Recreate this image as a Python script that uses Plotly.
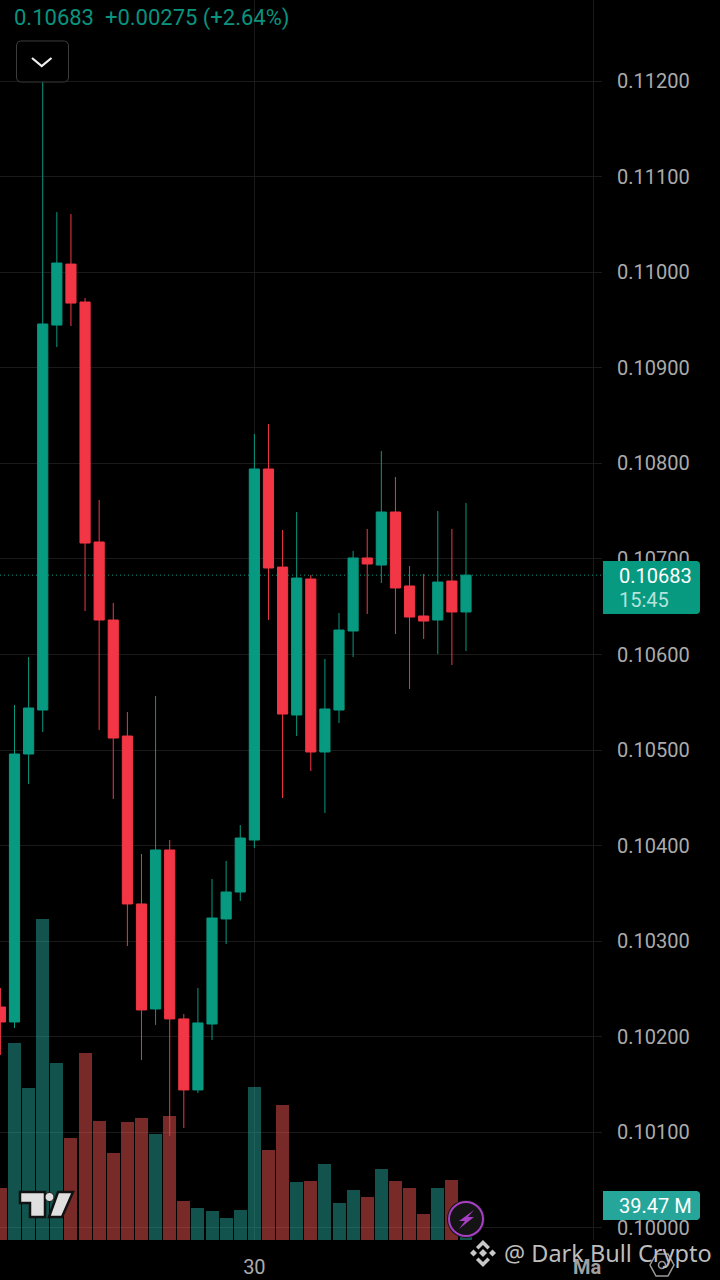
import plotly.graph_objects as go

# candles, oldest first
opens = [0.102312, 0.102155, 0.104959, 0.105419, 0.109447, 0.110085, 0.109688, 0.107177, 0.106361, 0.105147,
         0.103390, 0.102291, 0.103955, 0.102187, 0.101444, 0.102134, 0.103233, 0.103515, 0.104059, 0.107941,
         0.106915, 0.105367, 0.106790, 0.104980, 0.105419, 0.106246, 0.107010, 0.106936, 0.107491, 0.106717,
         0.106403, 0.106361, 0.106769, 0.106445]
highs = [0.102511, 0.105472, 0.105974, 0.112052, 0.110629, 0.110608, 0.109730, 0.107616, 0.106539, 0.105398,
         0.103913, 0.105566, 0.104059, 0.102239, 0.102511, 0.103651, 0.103840, 0.104216, 0.108307, 0.108411,
         0.107302, 0.107491, 0.106832, 0.105953, 0.106434, 0.107083, 0.107313, 0.108129, 0.107857, 0.106926,
         0.106842, 0.107501, 0.107313, 0.107585]
lows = [0.101810, 0.102092, 0.104645, 0.105189, 0.109217, 0.109437, 0.106455, 0.105210, 0.104488, 0.102950,
        0.101758, 0.102124, 0.100963, 0.101046, 0.101412, 0.101967, 0.102971, 0.103421, 0.103976, 0.106361,
        0.104499, 0.105147, 0.104781, 0.104342, 0.105283, 0.105974, 0.106424, 0.106748, 0.106214, 0.105639,
        0.106162, 0.106005, 0.105890, 0.106037]
closes = [0.102155, 0.104959, 0.105440, 0.109458, 0.110096, 0.109677, 0.107166, 0.106361, 0.105126, 0.103390,
          0.102281, 0.103955, 0.102187, 0.101444, 0.102145, 0.103243, 0.103515, 0.104080, 0.107941, 0.106905,
          0.105377, 0.106800, 0.104980, 0.105430, 0.106256, 0.107010, 0.106947, 0.107491, 0.106696, 0.106392,
          0.106350, 0.106758, 0.106445, 0.106830]

# volume in millions
volumes = [60.4, 228.7, 176.5, 372.7, 205.5, 118.4, 217.1, 138.2, 101.0, 137.0,
           141.6, 123.1, 144.0, 45.3, 37.2, 33.7, 25.5, 34.8, 177.6, 104.5,
           156.7, 67.3, 68.5, 88.2, 43.0, 58.0, 49.9, 82.4, 68.5, 60.4,
           30.2, 60.4, 69.7, 39.47]

price_ticks = [0.100, 0.101, 0.102, 0.103, 0.104, 0.105, 0.106, 0.107, 0.108, 0.109, 0.110, 0.111, 0.112]
last_price = 0.10683
header = "0.10683&nbsp;&nbsp;+0.00275 (+2.64%)"

bars = list(range(len(closes)))

GREEN = "#089981"
RED = "#f23645"
GRID = "#1a1a1a"
TEXT = "#ababab"
FONT = "Roboto"
W = 720
H = 1280


def px(x):
    return x / W


def py(y):
    return 1 - y / H


def path(points, close=True):
    s = "M " + " L ".join("%.5f,%.5f" % (px(x), py(y)) for x, y in points)
    return s + " Z" if close else s


def rounded(x0, y0, x1, y1, r, left=True):
    # rectangle with rounded corners, built out of short cuts across the corners
    pts = []
    if left:
        pts += [(x0, y0 + r), (x0 + r * 0.3, y0 + r * 0.3), (x0 + r, y0)]
    else:
        pts += [(x0, y0)]
    pts += [(x1 - r, y0), (x1 - r * 0.3, y0 + r * 0.3), (x1, y0 + r)]
    pts += [(x1, y1 - r), (x1 - r * 0.3, y1 - r * 0.3), (x1 - r, y1)]
    if left:
        pts += [(x0 + r, y1), (x0 + r * 0.3, y1 - r * 0.3), (x0, y1 - r)]
    else:
        pts += [(x0, y1)]
    return path(pts)


def pshape(d, fill="rgba(0,0,0,0)", line="rgba(0,0,0,0)", width=0):
    return dict(type="path", xref="paper", yref="paper", path=d, fillcolor=fill,
                line=dict(color=line, width=width), layer="above")


def circle(cx, cy, r, fill, line, width):
    return dict(type="circle", xref="paper", yref="paper",
                x0=px(cx - r), x1=px(cx + r), y0=py(cy + r), y1=py(cy - r),
                fillcolor=fill, line=dict(color=line, width=width), layer="above")


def label(x, y, text, color=TEXT, size=20, anchor="left", family=FONT):
    return dict(xref="paper", yref="paper", x=px(x), y=py(y), text=text, showarrow=False,
                xanchor=anchor, yanchor="middle", borderpad=0,
                font=dict(family=family, size=size, color=color))


fig = go.Figure()

vol_colors = ["rgba(38,166,154,0.5)" if c >= o else "rgba(239,83,80,0.5)" for o, c in zip(opens, closes)]
fig.add_trace(go.Bar(x=bars, y=volumes, marker=dict(color=vol_colors, line=dict(width=0)),
                     width=0.92, yaxis="y", showlegend=False))

fig.add_trace(go.Candlestick(x=bars, open=opens, high=highs, low=lows, close=closes, yaxis="y2",
                             whiskerwidth=0, showlegend=False,
                             increasing=dict(line=dict(color=GREEN, width=1), fillcolor=GREEN),
                             decreasing=dict(line=dict(color=RED, width=1), fillcolor=RED)))

shapes = [
    # last price line
    dict(type="line", xref="paper", yref="y2", x0=0, x1=px(602), y0=last_price, y1=last_price,
         line=dict(color=GREEN, width=1, dash="1px,3px"), layer="below"),
    # collapse button
    pshape(rounded(16.5, 41, 68.5, 82, 4), fill="#000000", line="#3c3c3c", width=1),
    pshape(path([(32, 58), (41.7, 66), (51.5, 58)], close=False), line="#f0f0f0", width=2.2),
    # price and volume tags
    pshape(rounded(603, 561, 700, 614, 3, left=False), fill=GREEN),
    pshape(rounded(603, 1191, 700, 1220, 3, left=False), fill="#26a69a"),
    # tradingview logo
    pshape(path([(20, 1192), (45, 1192), (45, 1217), (30, 1217), (30, 1203), (20, 1203)]),
           fill="#e0e0e0", line="#111111", width=2.5),
    pshape(path([(58, 1192), (73, 1192), (62, 1217), (49, 1217)]),
           fill="#e0e0e0", line="#111111", width=2.5),
    circle(49.5, 1197, 4.5, "#e0e0e0", "#111111", 1),
    # bolt badge
    circle(466, 1219, 19, "#141414", "#141414", 0),
    circle(466, 1219, 17, "#141414", "#a63fc4", 2),
    pshape(path([(474, 1210), (459, 1221), (465, 1221), (459, 1229), (474, 1217), (468, 1217)]), fill="#a63fc4"),
    # binance logo
    pshape(path([(483, 1249), (487, 1253), (483, 1257), (479, 1253)]), fill="#c8c8c8"),
    pshape(path([(483, 1240), (490, 1247), (487.5, 1249.5), (483, 1245), (478.5, 1249.5), (476, 1247)]), fill="#c8c8c8"),
    pshape(path([(483, 1267), (490, 1260), (487.5, 1257.5), (483, 1262), (478.5, 1257.5), (476, 1260)]), fill="#c8c8c8"),
    pshape(path([(470, 1253), (473.5, 1249.5), (477, 1253), (473.5, 1256.5)]), fill="#c8c8c8"),
    pshape(path([(496, 1253), (492.5, 1249.5), (489, 1253), (492.5, 1256.5)]), fill="#c8c8c8"),
    # hexagon icon, bottom right
    pshape(path([(650, 1265), (656, 1254), (668, 1254), (674, 1265), (668, 1276), (656, 1276)]),
           line="#9a9a9a", width=1.5),
    circle(662, 1265, 3.5, "rgba(0,0,0,0)", "#9a9a9a", 1.5),
]

annotations = [
    label(13, 18, header, color="#0a937e", size=22),
    label(618, 576, "0.10683", color="#ffffff", size=20),
    label(618, 600, "15:45", color="#b4e3d9", size=20),
    label(618, 1205.5, "39.47 M", color="#ffffff", size=20),
    label(587, 1267, "<b>Ma</b>", color="#a0a0a0", size=20, anchor="center"),
    label(503, 1253, "@ Dark Bull Crypto", color="#bdbdbd", size=23.5, family="Noto Sans"),
]

fig.update_layout(
    width=W, height=H,
    margin=dict(l=0, r=0, t=0, b=0, pad=0, autoexpand=False),
    paper_bgcolor="#000000",
    plot_bgcolor="#000000",
    showlegend=False,
    boxgap=0.28,
    boxgroupgap=0,
    bargap=0,
    dragmode=False,
    shapes=shapes,
    annotations=annotations,
    font=dict(family=FONT, size=20, color=TEXT),
    xaxis=dict(
        domain=[0, px(602)], range=[-0.028, 42.64], rangeslider=dict(visible=False),
        tickmode="array", tickvals=[18, 42.07], ticktext=["30", ""],
        showgrid=True, gridcolor=GRID, gridwidth=1, zeroline=False, showline=False,
        ticks="outside", ticklen=9, tickcolor="rgba(0,0,0,0)",
        tickfont=dict(family=FONT, size=20, color=TEXT),
    ),
    yaxis=dict(
        domain=[py(1240), 1], range=[0, 1439.6], visible=False, showgrid=False, zeroline=False,
    ),
    yaxis2=dict(
        domain=[py(1240), 1], range=[0.099874, 0.112848], overlaying="y", side="right", anchor="x",
        tickmode="array", tickvals=price_ticks, tickformat=".5f",
        showgrid=True, gridcolor=GRID, gridwidth=1, zeroline=False, showline=False,
        ticks="outside", ticklen=10, tickcolor="rgba(0,0,0,0)",
        tickfont=dict(family=FONT, size=20, color=TEXT),
    ),
)

# the default page margin would push the figure off the window
fig.write_html("out.html", config=dict(displayModeBar=False),
               post_script="document.body.style.margin='0';document.body.style.background='#000';")
